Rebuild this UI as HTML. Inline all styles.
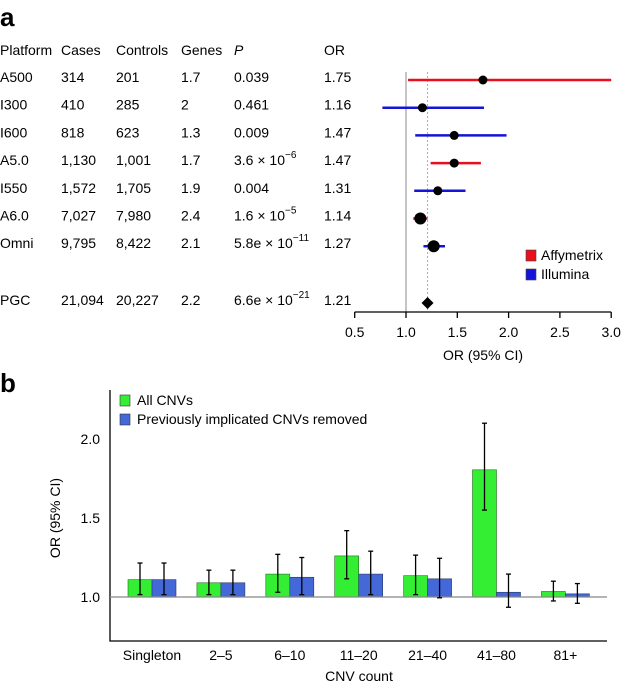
<!DOCTYPE html>
<html><head><meta charset="utf-8">
<style>
html,body{margin:0;padding:0;background:#fff;}
svg{display:block;font-family:"Liberation Sans",Arial,sans-serif;}
</style></head>
<body>
<svg id="fig" width="623" height="685" viewBox="0 0 623 685" xmlns="http://www.w3.org/2000/svg">
<text x="0" y="26" font-size="26" font-weight="bold">a</text>
<text x="0" y="392" font-size="26" font-weight="bold">b</text>
<g id="pa"></g>
<g id="pb"></g>
</svg>
<script>
// Panel a data
const platforms = ["A500","I300","I600","A5.0","I550","A6.0","Omni","PGC"];
const cases = ["314","410","818","1,130","1,572","7,027","9,795","21,094"];
const controls = ["201","285","623","1,001","1,705","7,980","8,422","20,227"];
const genes = ["1.7","2","1.3","1.7","1.9","2.4","2.1","2.2"];
const pBase = ["0.039","0.461","0.009","3.6 × 10","0.004","1.6 × 10","5.8e × 10","6.6e × 10"];
const pExp = ["","","","−6","","−5","−11","−21"];
const orVals = [1.75,1.16,1.47,1.47,1.31,1.14,1.27,1.21];
const ciLo = [1.02,0.77,1.09,1.24,1.08,1.07,1.17,1.21];
const ciHi = [3.0,1.76,1.98,1.73,1.58,1.21,1.38,1.21];
const vendor = ["A","I","I","A","I","A","I","P"];
const xTicks = [0.5,1.0,1.5,2.0,2.5,3.0];

// Panel b data
const cnvCats = ["Singleton","2–5","6–10","11–20","21–40","41–80","81+"];
const allOR = [1.11,1.09,1.145,1.26,1.135,1.805,1.035];
const allLo = [1.015,1.015,1.03,1.115,1.015,1.55,0.975];
const allHi = [1.215,1.17,1.27,1.42,1.265,2.1,1.1];
const remOR = [1.11,1.09,1.125,1.145,1.115,1.03,1.02];
const remLo = [1.015,1.015,1.015,1.015,0.995,0.935,0.96];
const remHi = [1.215,1.17,1.25,1.29,1.245,1.145,1.085];
const yTicks = [1.0,1.5,2.0];

const NS="http://www.w3.org/2000/svg";
function mk(parent,tag,attrs,text){const e=document.createElementNS(NS,tag);for(const k in attrs)e.setAttribute(k,attrs[k]);if(text!==undefined)e.textContent=text;parent.appendChild(e);return e;}

// ---- Panel a ----
const pa=document.getElementById('pa');
const xA=v=>406+(v-1.0)*102.6;
const rowBase=i=> i<7 ? 82+i*27.7 : 305;
const rowMark=i=> i<7 ? 80+i*27.7 : 303;
const colX=[0,61,116,181,234,324];
const hdr=["Platform","Cases","Controls","Genes","P","OR"];
hdr.forEach((h,j)=>{
  const t=mk(pa,'text',{x:colX[j],y:55,'font-size':14,'font-style':j===4?'italic':'normal'},h);
  
  
});
platforms.forEach((p,i)=>{
  const y=rowBase(i);
  const cells=[p,cases[i],controls[i],genes[i]];
  cells.forEach((c,j)=>{const t=mk(pa,'text',{x:colX[j],y:y,'font-size':14},c);
    
    });
  const pt=mk(pa,'text',{x:colX[4],y:y,'font-size':14},pBase[i]);
  
  
  if(pExp[i]){mk(pt,'tspan',{dy:-7,'font-size':10},pExp[i]);}
  const ot=mk(pa,'text',{x:colX[5],y:y,'font-size':14},orVals[i].toFixed(2));
  
  
});
// reference lines
const vl=mk(pa,'line',{x1:xA(1),x2:xA(1),y1:72,y2:312,stroke:'#888','stroke-width':1});


const dl=mk(pa,'line',{x1:xA(orVals[7]),x2:xA(orVals[7]),y1:72,y2:312,stroke:'#aaa','stroke-width':1,'stroke-dasharray':'2,2'});


platforms.forEach((p,i)=>{
  const y=rowMark(i);
  if(vendor[i]==='P'){
    const d=mk(pa,'polygon',{points:`${xA(orVals[i])-6},${y} ${xA(orVals[i])},${y-6} ${xA(orVals[i])+6},${y} ${xA(orVals[i])},${y+6}`,fill:'#000'});
    
    
    return;
  }
  const col=vendor[i]==='A'?'#e8101c':'#1414d8';
  const l=mk(pa,'line',{x1:xA(ciLo[i]),x2:xA(ciHi[i]),y1:y,y2:y,stroke:col,'stroke-width':2.5});
  
  
  const r=(i===5||i===6)?6:4.5;
  const c=mk(pa,'circle',{cx:xA(orVals[i]),cy:y,r:r,fill:'#000'});
  
  
});
const ax=mk(pa,'line',{x1:xA(0.5),x2:xA(3.0),y1:312,y2:312,stroke:'#000','stroke-width':1.3});


xTicks.forEach(v=>{
  const tk=mk(pa,'line',{x1:xA(v),x2:xA(v),y1:312,y2:318,stroke:'#000','stroke-width':1.3});
  
  
  const tl=mk(pa,'text',{x:xA(v),y:337,'font-size':14,'text-anchor':'middle'},v.toFixed(1));
  
  
});
const xt=mk(pa,'text',{x:483,y:360,'font-size':14,'text-anchor':'middle'},"OR (95% CI)");


[["Affymetrix","#e8101c",250],["Illumina","#1414d8",269]].forEach(([n,c,y])=>{
  const g=mk(pa,'g',{});
  
  
  mk(g,'rect',{x:526,y:y,width:10,height:11,fill:c,stroke:'#444','stroke-width':0.6});
  mk(g,'text',{x:541,y:y+10,'font-size':14},n);
});

// ---- Panel b ----
const pb=document.getElementById('pb');
const yB=v=>597-(v-1.0)*158;
const cx=i=>152+i*68.9;
const bw=24;
const yAxis=mk(pb,'polyline',{points:`110,390 110,641 607,641`,fill:'none',stroke:'#000','stroke-width':1.3});


yTicks.forEach(v=>{
  const t=mk(pb,'text',{x:100,y:yB(v)+5,'font-size':14,'text-anchor':'end'},v.toFixed(1));
  
  
});
const yt=mk(pb,'text',{x:0,y:0,'font-size':14,'text-anchor':'middle',transform:`translate(60,${yB(1.5)}) rotate(-90)`},"OR (95% CI)");


function errbar(x,lo,hi){
  const g=mk(pb,'g',{stroke:'#000','stroke-width':1.3});
  
  
  mk(g,'line',{x1:x,x2:x,y1:yB(lo),y2:yB(hi)});
  mk(g,'line',{x1:x-2.5,x2:x+2.5,y1:yB(lo),y2:yB(lo)});
  mk(g,'line',{x1:x-2.5,x2:x+2.5,y1:yB(hi),y2:yB(hi)});
}
cnvCats.forEach((c,i)=>{
  const x=cx(i);
  const g1=mk(pb,'rect',{x:x-bw,y:Math.min(yB(allOR[i]),yB(1)),width:bw,height:Math.abs(yB(1)-yB(allOR[i])),fill:'#33ee33',stroke:'#2a6a2a','stroke-width':0.6});
  
  
  const b1=mk(pb,'rect',{x:x,y:Math.min(yB(remOR[i]),yB(1)),width:bw,height:Math.abs(yB(1)-yB(remOR[i])),fill:'#4468d8',stroke:'#2a3a6a','stroke-width':0.6});
  
  
  const t=mk(pb,'text',{x:x,y:660,'font-size':14,'text-anchor':'middle'},c);
  
  
});
const ref=mk(pb,'line',{x1:110,x2:607,y1:yB(1),y2:yB(1),stroke:'#888','stroke-width':1.3});


cnvCats.forEach((c,i)=>{
  errbar(cx(i)-bw/2,allLo[i],allHi[i]);
  errbar(cx(i)+bw/2,remLo[i],remHi[i]);
});
const xtb=mk(pb,'text',{x:359,y:681,'font-size':14,'text-anchor':'middle'},"CNV count");


[["All CNVs","#33ee33",395],["Previously implicated CNVs removed","#4468d8",414]].forEach(([n,c,y])=>{
  const g=mk(pb,'g',{});
  
  
  mk(g,'rect',{x:120,y:y,width:10,height:11,fill:c,stroke:'#333','stroke-width':0.6});
  mk(g,'text',{x:137,y:y+10,'font-size':14},n);
});
</script>
</body></html>
